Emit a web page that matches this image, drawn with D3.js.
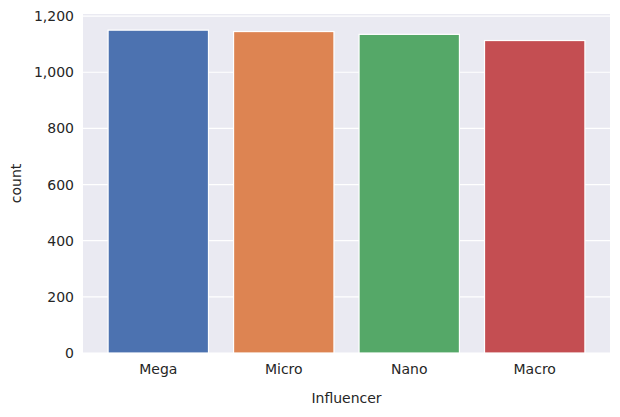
<!DOCTYPE html>
<html><head><meta charset="utf-8">
<script src="https://cdn.jsdelivr.net/npm/d3@7"></script>
<style>body{margin:0;background:#fff;font-family:"DejaVu Sans",Arial,sans-serif;}</style>
</head><body><svg id="c" width="620" height="417"></svg>
<script>
const categories = ["Mega", "Micro", "Nano", "Macro"];
const counts = [1150, 1145, 1135, 1113];
const colors = ["#4c72b0", "#dd8452", "#55a868", "#c44e52"];
const yTicks = [0, 200, 400, 600, 800, 1000, 1200];

const margin = {top: 14, right: 10, bottom: 64, left: 83};
const width = 620 - margin.left - margin.right,
      height = 417 - margin.top - margin.bottom;

const svg = d3.select("#c").append("g")
  .attr("transform", "translate(" + margin.left + "," + margin.top + ")");

const x = d3.scaleBand().domain(categories).range([0, width]).padding(0.2);
const y = d3.scaleLinear().domain([0, 1207.5]).range([height, 0]);

svg.append("rect").attr("width", width).attr("height", height).attr("fill", "#eaeaf2");

svg.selectAll(".grid").data(yTicks).enter().append("line")
  .attr("x1", 0).attr("x2", width)
  .attr("y1", d => y(d)).attr("y2", d => y(d))
  .attr("stroke", "#fff").attr("stroke-width", 1.2);

svg.selectAll(".bar").data(categories).enter().append("rect")
  .attr("x", d => x(d)).attr("width", x.bandwidth())
  .attr("y", (d, i) => y(counts[i]))
  .attr("height", (d, i) => height - y(counts[i]))
  .attr("fill", (d, i) => colors[i])
  .attr("stroke", "#fff").attr("stroke-width", 1.2);

const yAxis = svg.append("g").call(d3.axisLeft(y).tickValues(yTicks).tickSize(0).tickPadding(9));
const xAxis = svg.append("g").attr("transform", "translate(0," + height + ")")
  .call(d3.axisBottom(x).tickSize(0).tickPadding(11));
[yAxis, xAxis].forEach(a => {
  a.select(".domain").remove();
  a.selectAll("text").attr("font-size", 14).attr("fill", "#262626").attr("font-family", "DejaVu Sans, Arial, sans-serif");
});

svg.append("text").attr("x", width / 2).attr("y", height + 50)
  .attr("text-anchor", "middle").attr("font-size", 14).attr("fill", "#262626")
  .text("Influencer");
svg.append("text").attr("transform", "rotate(-90)")
  .attr("x", -height / 2).attr("y", -62)
  .attr("text-anchor", "middle").attr("font-size", 14).attr("fill", "#262626")
  .text("count");
</script></body></html>
